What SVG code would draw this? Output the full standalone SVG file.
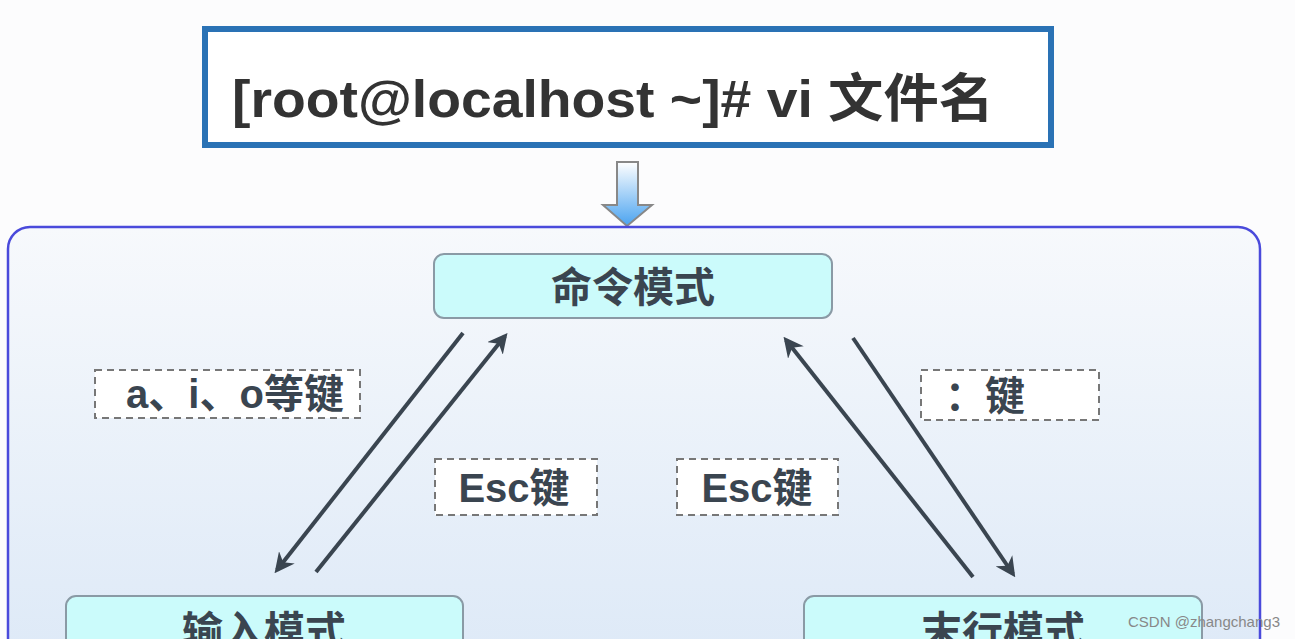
<svg xmlns="http://www.w3.org/2000/svg" width="1295" height="639" viewBox="0 0 1295 639">
<defs>
<linearGradient id="bg" x1="0" y1="0" x2="0" y2="1"><stop offset="0" stop-color="#f7f9fc"/><stop offset="1" stop-color="#dde9f7"/></linearGradient>
<linearGradient id="da" x1="0" y1="0" x2="0" y2="1"><stop offset="0" stop-color="#ffffff"/><stop offset="1" stop-color="#4aa3f0"/></linearGradient>
<marker id="ah" viewBox="0 0 10 10" refX="8" refY="5" markerWidth="5" markerHeight="5" orient="auto"><path d="M0,0 L10,5 L0,10 L3,5 Z" fill="#3a4550"/></marker>
<style>
.t{font-family:"Liberation Sans","Noto Sans CJK SC",sans-serif;font-weight:bold;fill:#3a4550}
.mode{fill:#cbfbfb;stroke:#8a9aa5;stroke-width:2}
.lbl{fill:#fff;stroke:#777;stroke-width:2;stroke-dasharray:7 5}
.c{stroke:#3a4550;stroke-width:4;fill:none}
</style>
</defs>
<rect width="1295" height="639" fill="#fcfcfd"/>
<g id="cmdline"><rect x="205" y="29" width="846" height="116" fill="#fff" stroke="#2a72b5" stroke-width="6"/>
<text class="t" x="232" y="117" font-size="52" textLength="762" lengthAdjust="spacingAndGlyphs" style="fill:#333">[root@localhost ~]# vi 文件名</text></g>
<g id="downarrow"><path d="M617,162 H638 V205 H652 L627,226 L603,205 H617 Z" fill="url(#da)" stroke="#888" stroke-width="2"/></g>
<g id="container"><rect x="8" y="227" width="1252" height="440" rx="22" fill="url(#bg)" stroke="#4a4adb" stroke-width="2.5"/></g>
<g id="connectors">
<line class="c" x1="463" y1="333" x2="277" y2="570" marker-end="url(#ah)"/>
<line class="c" x1="316" y1="572" x2="505" y2="336" marker-end="url(#ah)"/>
<line class="c" x1="973" y1="577" x2="786" y2="340" marker-end="url(#ah)"/>
<line class="c" x1="853" y1="338" x2="1013" y2="574" marker-end="url(#ah)"/>
</g>
<g id="cmdmode"><rect class="mode" x="434" y="254" width="398" height="64" rx="10"/><text class="t" x="633" y="302" font-size="41" text-anchor="middle">命令模式</text></g>
<g id="inputmode"><rect class="mode" x="66" y="596" width="397" height="80" rx="10"/><text class="t" x="264" y="646" font-size="41" text-anchor="middle">输入模式</text></g>
<g id="lastmode"><rect class="mode" x="804" y="596" width="398" height="80" rx="10"/><text class="t" x="1003" y="646" font-size="41" text-anchor="middle">末行模式</text></g>
<g id="l1"><rect class="lbl" x="95" y="370" width="265" height="48"/><text class="t" x="235" y="408" font-size="40" text-anchor="middle">a、i、o等键</text></g>
<g id="l2"><rect class="lbl" x="435" y="459" width="162" height="56"/><text class="t" x="514" y="502" font-size="40" text-anchor="middle">Esc键</text></g>
<g id="l3"><rect class="lbl" x="677" y="459" width="161" height="56"/><text class="t" x="757" y="502" font-size="40" text-anchor="middle">Esc键</text></g>
<g id="l4"><rect class="lbl" x="921" y="370" width="178" height="50"/><text class="t" x="985" y="410" font-size="40" text-anchor="middle">：键</text></g>
<text x="1280" y="627" font-size="15" text-anchor="end" font-family="Liberation Sans, sans-serif" fill="#888">CSDN @zhangchang3</text>
</svg>
